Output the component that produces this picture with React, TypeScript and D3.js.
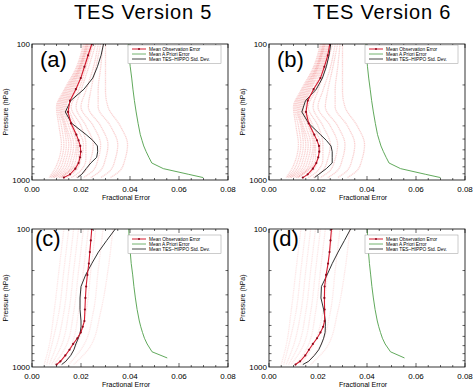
import React from "react";
import * as d3 from "d3";

// pressure grid (hPa) shared by the mean profiles
const pressure = [100, 121, 147, 178, 215, 261, 316, 383, 464, 511, 562, 619, 681, 750, 825, 909, 960];
// a priori in the lower panels stops higher up
const aprioriPressureLow = [100, 121, 147, 178, 215, 261, 316, 383, 464, 511, 562, 619, 681, 776, 860];

const obsA = [0.0244, 0.0229, 0.0214, 0.0199, 0.0179, 0.0155, 0.0147, 0.0159, 0.0181, 0.019, 0.0197, 0.0199, 0.0196, 0.019, 0.0177, 0.0155, 0.013];
const stdA = [0.0292, 0.0282, 0.0267, 0.0248, 0.0212, 0.0158, 0.0136, 0.0162, 0.0221, 0.0248, 0.0267, 0.0268, 0.0264, 0.024, 0.0221, 0.0203, 0.0186];
const aprioriA = [0.0393, 0.0396, 0.0401, 0.0407, 0.0412, 0.0418, 0.0425, 0.0433, 0.0442, 0.0449, 0.0456, 0.0466, 0.0477, 0.0489, 0.0536, 0.064, 0.0699];

const obsB = [0.0248, 0.024, 0.0226, 0.021, 0.0182, 0.0158, 0.0151, 0.0162, 0.0185, 0.0196, 0.0204, 0.0205, 0.0201, 0.0193, 0.0179, 0.0158, 0.0138];
const stdB = [0.0252, 0.0245, 0.0234, 0.0218, 0.0193, 0.0149, 0.0134, 0.0162, 0.021, 0.0234, 0.0253, 0.0258, 0.0258, 0.0258, 0.0234, 0.0203, 0.0186];
const aprioriB = [0.0395, 0.0398, 0.0402, 0.0407, 0.0413, 0.0419, 0.0426, 0.0434, 0.0443, 0.045, 0.0457, 0.0467, 0.0478, 0.049, 0.0537, 0.064, 0.07];

const obsC = [0.0244, 0.024, 0.0236, 0.0232, 0.0226, 0.0221, 0.0218, 0.0216, 0.0214, 0.0207, 0.0199, 0.0185, 0.0168, 0.0153, 0.0136, 0.0116, 0.01];
const stdC = [0.034, 0.0305, 0.0271, 0.0244, 0.0219, 0.02, 0.0196, 0.0196, 0.02, 0.02, 0.0197, 0.0189, 0.0179, 0.0171, 0.0158, 0.0138, 0.0121];
const aprioriC = [0.0395, 0.0397, 0.0401, 0.0405, 0.0411, 0.0416, 0.0422, 0.0429, 0.0438, 0.0444, 0.0451, 0.0459, 0.047, 0.049, 0.0552];

const obsD = [0.0255, 0.0251, 0.0247, 0.0241, 0.0233, 0.0227, 0.0226, 0.0227, 0.0227, 0.0221, 0.021, 0.0196, 0.0179, 0.0163, 0.0148, 0.0127, 0.0108];
const stdD = [0.0333, 0.0308, 0.0282, 0.0258, 0.0237, 0.0214, 0.0212, 0.0223, 0.023, 0.023, 0.0229, 0.0223, 0.0214, 0.0203, 0.0185, 0.0162, 0.0138];
const aprioriD = [0.0401, 0.0403, 0.0406, 0.041, 0.0415, 0.042, 0.0426, 0.0433, 0.0442, 0.0448, 0.0455, 0.0463, 0.0474, 0.0496, 0.0553];

// individual (faint) profiles
const faintTopPressure = [100, 150, 220, 290, 400, 550, 700, 850, 960];
const faintTop = [
  [0.021, 0.018, 0.013, 0.01, 0.011, 0.012, 0.011, 0.009, 0.007],
  [0.0215, 0.0185, 0.0135, 0.0105, 0.012, 0.013, 0.012, 0.01, 0.0075],
  [0.022, 0.019, 0.014, 0.011, 0.013, 0.014, 0.013, 0.011, 0.008],
  [0.0222, 0.0192, 0.0145, 0.0115, 0.0135, 0.015, 0.014, 0.012, 0.0085],
  [0.0225, 0.0195, 0.015, 0.012, 0.014, 0.016, 0.015, 0.013, 0.009],
  [0.0228, 0.0198, 0.0155, 0.0125, 0.015, 0.017, 0.016, 0.014, 0.01],
  [0.023, 0.02, 0.016, 0.013, 0.016, 0.018, 0.017, 0.015, 0.011],
  [0.0235, 0.0205, 0.0165, 0.0135, 0.0165, 0.0185, 0.018, 0.0155, 0.0115],
  [0.024, 0.021, 0.017, 0.014, 0.017, 0.019, 0.019, 0.016, 0.012],
  [0.0245, 0.0215, 0.018, 0.015, 0.018, 0.021, 0.02, 0.018, 0.014],
  [0.025, 0.022, 0.019, 0.016, 0.02, 0.022, 0.022, 0.02, 0.016],
  [0.026, 0.023, 0.02, 0.018, 0.022, 0.025, 0.024, 0.022, 0.018],
  [0.027, 0.025, 0.022, 0.02, 0.025, 0.028, 0.027, 0.025, 0.021],
  [0.028, 0.026, 0.024, 0.023, 0.028, 0.031, 0.03, 0.028, 0.024],
  [0.029, 0.028, 0.027, 0.027, 0.032, 0.035, 0.034, 0.032, 0.028],
  [0.03, 0.03, 0.03, 0.031, 0.036, 0.039, 0.038, 0.036, 0.032],
];
const faintLowPressure = [100, 200, 400, 700, 960];
const faintLow = [
  [0.013, 0.011, 0.009, 0.007, 0.005],
  [0.015, 0.013, 0.011, 0.008, 0.006],
  [0.017, 0.015, 0.013, 0.01, 0.007],
  [0.019, 0.017, 0.015, 0.012, 0.008],
  [0.021, 0.019, 0.017, 0.014, 0.009],
  [0.023, 0.021, 0.019, 0.016, 0.011],
  [0.026, 0.024, 0.022, 0.018, 0.013],
  [0.029, 0.027, 0.025, 0.021, 0.015],
  [0.033, 0.031, 0.028, 0.024, 0.017],
];

const xTicks = [0, 0.02, 0.04, 0.06, 0.08];
const titles = ["TES Version 5", "TES Version 6"];
const legendLabels = ["Mean Observation Error", "Mean A Priori Error", "Mean TES\u2013HIPPO Std. Dev."];

const RED = "#d41a2e";
const GREEN = "#4f9f4a";
const FONT = "'Liberation Sans', Arial, sans-serif";

const panels = [
  { id: "a", label: "(a)", left: 32, top: 44, h: 136, obs: obsA, std: stdA, apriori: aprioriA, aprioriP: pressure, faint: faintTop, faintP: faintTopPressure, faintOp: 0.3, labelX: 8, labelY: 23, legendY: 1 },
  { id: "b", label: "(b)", left: 269, top: 44, h: 136, obs: obsB, std: stdB, apriori: aprioriB, aprioriP: pressure, faint: faintTop, faintP: faintTopPressure, faintOp: 0.3, labelX: 8, labelY: 23, legendY: 1 },
  { id: "c", label: "(c)", left: 32, top: 229, h: 138, obs: obsC, std: stdC, apriori: aprioriC, aprioriP: aprioriPressureLow, faint: faintLow, faintP: faintLowPressure, faintOp: 0.16, labelX: 3, labelY: 17, legendY: 6 },
  { id: "d", label: "(d)", left: 269, top: 229, h: 138, obs: obsD, std: stdD, apriori: aprioriD, aprioriP: aprioriPressureLow, faint: faintLow, faintP: faintLowPressure, faintOp: 0.16, labelX: 3, labelY: 17, legendY: 6 },
];

const PW = 196;

function Panel({ p }: { p: any }) {
  const x = d3.scaleLinear().domain([0, 0.08]).range([0, PW]);
  const y = d3.scaleLog().domain([100, 1000]).range([0, p.h]);

  const line = (ps: number[]) =>
    d3
      .line<number>()
      .x((v) => x(v))
      .y((_, i) => y(ps[i]));
  const smooth = (ps: number[]) =>
    d3
      .line<number>()
      .x((v) => x(v))
      .y((_, i) => y(ps[i]))
      .curve(d3.curveMonotoneY);

  const minorX = d3.range(0, 0.0801, 0.005);
  const minorY = [200, 300, 400, 500, 600, 700, 800, 900];
  const lx = 96;
  const ly = p.legendY;

  return (
    <g transform={`translate(${p.left},${p.top})`}>
      <defs>
        <clipPath id={`clip-${p.id}`}>
          <rect width={PW} height={p.h} />
        </clipPath>
      </defs>
      <g clipPath={`url(#clip-${p.id})`}>
        {p.faint.map((f: number[], i: number) => (
          <path key={i} d={smooth(p.faintP)(f) || ""} fill="none" stroke="#f06e6e" strokeOpacity={p.faintOp} strokeWidth={1.3} strokeDasharray="1.2,0.6" />
        ))}
        <path d={line(p.aprioriP)(p.apriori) || ""} fill="none" stroke={GREEN} strokeWidth={0.9} />
        <path d={line(pressure)(p.std) || ""} fill="none" stroke="#1a1a1a" strokeWidth={0.9} />
        <path d={line(pressure)(p.obs) || ""} fill="none" stroke={RED} strokeWidth={1.1} />
        {p.obs.map((v: number, i: number) => (
          <circle key={i} cx={x(v)} cy={y(pressure[i])} r={1.1} fill="#8e0a1c" />
        ))}
      </g>
      <rect width={PW} height={p.h} fill="none" stroke="#000" strokeWidth={0.8} />
      {minorX.map((t, i) => {
        const major = i % 4 === 0;
        const len = major ? 4 : 2;
        return (
          <g key={i}>
            <line x1={x(t)} x2={x(t)} y1={p.h} y2={p.h - len} stroke="#000" strokeWidth={0.6} />
            <line x1={x(t)} x2={x(t)} y1={0} y2={len} stroke="#000" strokeWidth={0.6} />
          </g>
        );
      })}
      {minorY.map((t) => (
        <g key={t}>
          <line x1={0} x2={2.5} y1={y(t)} y2={y(t)} stroke="#000" strokeWidth={0.6} />
          <line x1={PW} x2={PW - 2.5} y1={y(t)} y2={y(t)} stroke="#000" strokeWidth={0.6} />
        </g>
      ))}
      {xTicks.map((t) => (
        <text key={t} x={x(t)} y={p.h + 12} fontSize={8} textAnchor="middle" fontFamily={FONT}>
          {t.toFixed(2)}
        </text>
      ))}
      <text x={-2} y={3} fontSize={8} textAnchor="end" fontFamily={FONT}>100</text>
      <text x={-2} y={p.h + 3} fontSize={8} textAnchor="end" fontFamily={FONT}>1000</text>
      <text x={PW / 2 - 4} y={p.h + 19.5} fontSize={7} textAnchor="middle" fontFamily={FONT}>
        Fractional Error
      </text>
      <text transform={`translate(-24,${p.h / 2}) rotate(-90)`} fontSize={7} textAnchor="middle" fontFamily={FONT}>
        Pressure (hPa)
      </text>
      <text x={p.labelX} y={p.labelY} fontSize={22} fontFamily={FONT}>
        {p.label}
      </text>
      <g transform={`translate(${lx},${ly})`}>
        <rect width={93} height={18.5} fill="#fff" stroke="#999" strokeWidth={0.5} />
        {[RED, GREEN, "#1a1a1a"].map((c, i) => (
          <g key={i} transform={`translate(0,${4 + i * 5})`}>
            <line x1={4} x2={18} y1={0} y2={0} stroke={c} strokeWidth={i === 0 ? 1 : 0.8} />
            {i === 0 && <circle cx={11} cy={0} r={1} fill="#8e0a1c" />}
            <text x={21} y={1.6} fontSize={4.8} fontFamily={FONT}>
              {legendLabels[i]}
            </text>
          </g>
        ))}
      </g>
    </g>
  );
}

export default function App() {
  return (
    <svg width={474} height={389} style={{ position: "absolute", left: 0, top: 0, background: "#fff" }}>
      <rect width={474} height={389} fill="#fff" />
      <text x={143} y={19} fontSize={20} letterSpacing={0.8} textAnchor="middle" fontFamily={FONT}>{titles[0]}</text>
      <text x={382} y={19} fontSize={20} letterSpacing={0.8} textAnchor="middle" fontFamily={FONT}>{titles[1]}</text>
      {panels.map((p) => (
        <Panel key={p.id} p={p} />
      ))}
    </svg>
  );
}
